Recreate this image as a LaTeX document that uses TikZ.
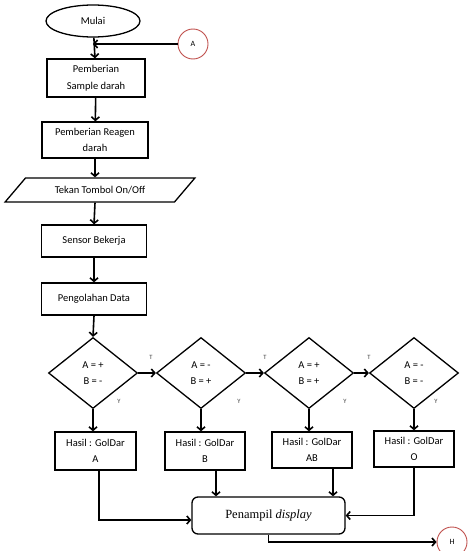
\documentclass[tikz,border=0pt]{standalone}
\usepackage{fontspec}
\newfontfamily\calibri{Carlito}
\newfontfamily\timesfont{Liberation Serif}
\usetikzlibrary{arrows.meta, shapes.geometric}
\definecolor{connred}{RGB}{192, 80, 77}

\begin{document}
\begin{tikzpicture}[
    x=1pt, y=-1pt,
    % Define Styles for Consistency
    every node/.style={font=\calibri\fontsize{10.5}{16.5}\selectfont},
    proses/.style={
        rectangle, draw=black, line width=1.3pt, fill=white,
        align=center, inner sep=0pt
    },
    terminal/.style={
        ellipse, draw=black, line width=1.3pt, fill=white,
        minimum width=94pt, minimum height=32pt, inner sep=0pt
    },
    masukan/.style={
        trapezium, trapezium left angle=32, trapezium right angle=148,
        trapezium stretches=true, draw=black, line width=1.3pt,
        minimum width=190pt, minimum height=24pt, inner sep=0pt
    },
    keputusan/.style={
        diamond, draw=black, line width=1.3pt, align=center,
        minimum width=89pt, minimum height=71pt, inner sep=0pt
    },
    konektor/.style={
        circle, draw=connred, line width=0.9pt, fill=white,
        minimum size=30pt, inner sep=0pt,
        font=\calibri\fontsize{8}{9}\selectfont
    },
    arrow/.style={
        -{Straight Barb[length=3.5pt, width=8pt]}, line width=1.6pt
    },
    labeltext/.style={
        font=\calibri\fontsize{6.5}{7}\selectfont, color=black!75
    }
]
    \useasboundingbox (0,0) rectangle (467,551);

    % --- 1. Main Column ---
    \node[terminal] (mulai) at (93, 21) {Mulai};
    \node[konektor] (a) at (193, 44) {A};
    \node[proses, minimum width=98pt, minimum height=38pt] (sampel) at (96, 78)
        {Pemberian\\Sample darah};
    \node[proses, minimum width=106pt, minimum height=36pt] (reagen) at (95, 140)
        {Pemberian Reagen\\darah};
    \node[masukan] (tombol) at (100, 190) {Tekan Tombol On/Off};
    \node[proses, minimum width=105pt, minimum height=32pt] (sensor) at (94, 241)
        {Sensor Bekerja};
    \node[proses, minimum width=105pt, minimum height=32pt] (olah) at (94, 299)
        {Pengolahan Data};

    % --- 2. Decisions ---
    \node[keputusan] (d1) at (93, 373) {A = +\\B = -};
    \node[keputusan] (d2) at (201, 373) {A = -\\B = +};
    \node[keputusan] (d3) at (309, 373) {A = +\\B = +};
    \node[keputusan] (d4) at (414, 373) {A = -\\B = -};

    % T / Y labels
    \node[labeltext] (t1) at (151, 357) {T};
    \node[labeltext] (t2) at (265, 357) {T};
    \node[labeltext] (t3) at (369, 357) {T};
    \node[labeltext] (y1) at (119, 401) {Y};
    \node[labeltext] (y2) at (239, 401) {Y};
    \node[labeltext] (y3) at (345, 401) {Y};
    \node[labeltext] (y4) at (436, 401) {Y};

    % --- 3. Results ---
    \node[proses, minimum width=81pt, minimum height=38pt] (hasilA) at (95.5, 451)
        {Hasil : GolDar\\A};
    \node[proses, minimum width=80pt, minimum height=38pt] (hasilB) at (205, 451)
        {Hasil : GolDar\\B};
    \node[proses, minimum width=80pt, minimum height=36pt] (hasilAB) at (312, 450)
        {Hasil : GolDar\\AB};
    \node[proses, minimum width=80pt, minimum height=36pt] (hasilO) at (414, 449)
        {Hasil : GolDar\\O};

    \node[proses, rounded corners=6pt, minimum width=153pt, minimum height=37pt,
        font=\timesfont\fontsize{12.5}{14}\selectfont] (tampil) at (268.5, 515.5)
        {Penampil \textit{display}};
    \node[konektor] (h) at (452, 542) {H};

    % --- 4. Connecting Arrows ---
    \draw[arrow] (mulai) -- (sampel);
    \draw[arrow] (a) -- (mulai.south |- a.west);
    \draw[arrow] (sampel) -- (reagen);
    \draw[arrow] (reagen.south) -- (reagen.south |- tombol.north);
    \draw[arrow] (reagen.south |- tombol.south) -- (sensor.north);
    \draw[arrow] (sensor) -- (olah);
    \draw[arrow] (olah.south) -- (d1.north);

    \draw[arrow] (d1) -- (d2);
    \draw[arrow] (d2) -- (d3);
    \draw[arrow] (d3) -- (d4);

    \draw[arrow] (d1.south) -- (d1.south |- hasilA.north);
    \draw[arrow] (d2.south) -- (d2.south |- hasilB.north);
    \draw[arrow] (d3.south) -- (d3.south |- hasilAB.north);
    \draw[arrow] (d4.south) -- (d4.south |- hasilO.north);

    \draw[arrow] ([xshift=3.5pt]hasilA.south) |- ([yshift=-4.5pt]tampil.west);
    \draw[arrow] ([xshift=11pt]hasilB.south) -- ([xshift=11pt]hasilB.south |- tampil.north);
    \draw[arrow] ([xshift=21pt]hasilAB.south) -- ([xshift=21pt]hasilAB.south |- tampil.north);
    \draw[arrow] (hasilO.south) |- (tampil.east);
    \draw[arrow] (tampil.south) |- (h.west);

\end{tikzpicture}
\end{document}
